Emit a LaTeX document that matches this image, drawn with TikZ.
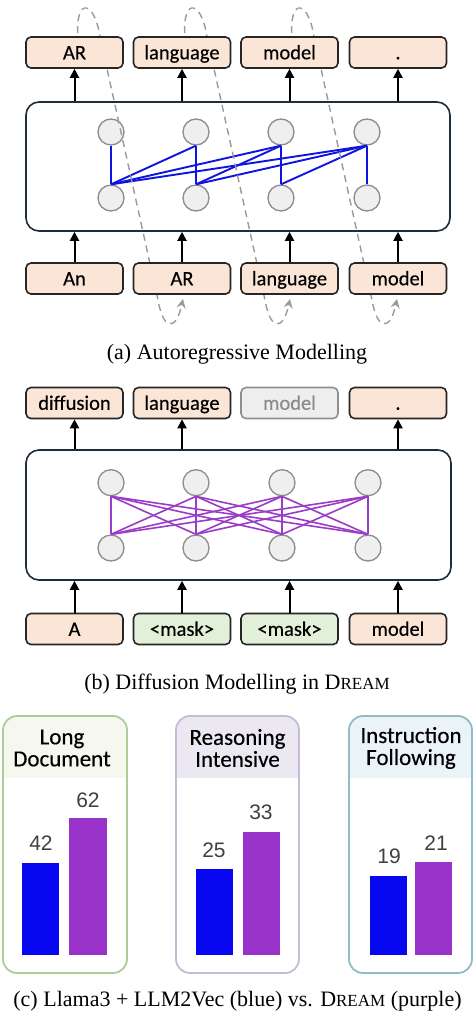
\documentclass[tikz,border=0pt]{standalone}
\usepackage{fontspec}
\setmainfont{Liberation Serif}
\newfontfamily\carl[FakeBold=0.35]{Carlito}
\newfontfamily\lsans{Liberation Sans}
\usetikzlibrary{arrows.meta}
\definecolor{peach}{HTML}{FBE5D6}
\definecolor{tokborder}{HTML}{262626}
\definecolor{bigborder}{HTML}{1F2D3A}
\definecolor{circfill}{HTML}{EFEFEF}
\definecolor{circdraw}{HTML}{8C8C8C}
\definecolor{arblue}{HTML}{0F14E0}
\definecolor{difpurple}{HTML}{9A3CC8}
\definecolor{barblue}{HTML}{0808F0}
\definecolor{barpurple}{HTML}{9932C8}
\definecolor{maskgreen}{HTML}{E2F0D9}
\definecolor{greyfill}{HTML}{EEEEEE}
\definecolor{greyline}{HTML}{8F8F8F}
\definecolor{greytext}{HTML}{8A8A8A}
\definecolor{dashgrey}{HTML}{9A9A9A}
\definecolor{numgrey}{HTML}{404040}
\definecolor{pAborder}{HTML}{A9CF99}
\definecolor{pAhead}{HTML}{F6F7EF}
\definecolor{pBborder}{HTML}{C4BCD6}
\definecolor{pBhead}{HTML}{EBE8F1}
\definecolor{pCborder}{HTML}{8FBCC6}
\definecolor{pChead}{HTML}{E9F3F8}
\tikzset{
  tok/.style={draw=tokborder, fill=peach, rounded corners=5pt, line width=1.6pt,
    minimum width=97pt, minimum height=31pt, inner sep=0pt,
    text height=13.5pt, text depth=0pt, font=\carl\fontsize{20.5}{24}\selectfont},
  masktok/.style={tok, fill=maskgreen},
  greytok/.style={tok, fill=greyfill, draw=greyline, text=greytext},
  bigbox/.style={draw=bigborder, fill=white, rounded corners=13pt, line width=1.6pt},
  neuron/.style={circle, draw=circdraw, fill=circfill, line width=1.3pt, minimum size=26pt, inner sep=0pt},
  arr/.style={line width=2pt, -{Triangle[width=9pt,length=9pt]}},
  loop/.style={dashgrey, line width=1.4pt, dash pattern=on 7pt off 5pt, -{Stealth[width=9pt,length=9pt]}},
  arline/.style={arblue, line width=1.9pt},
  difline/.style={difpurple, line width=1.6pt},
  caption/.style={font=\fontsize{22}{26}\selectfont, inner sep=0pt},
  ttl/.style={font=\carl\fontsize{23}{22}\selectfont, align=center, inner sep=0pt},
  num/.style={font=\lsans\fontsize{21}{24}\selectfont, text=numgrey, inner sep=0pt},
}
\newcommand{\dream}{D{\fontsize{17}{20}\selectfont REAM}}
\begin{document}
\begin{tikzpicture}[x=1pt,y=-1pt]
\useasboundingbox (0,0) rectangle (474,1015);
% ===================== (a) =====================
\node[bigbox, minimum width=424pt, minimum height=129pt] (bigA) at (238,166.5) {};
\foreach \i/\x in {1/111,2/196,3/281,4/367}{
  \node[neuron] (at\i) at (\x,132) {};
  \node[neuron] (ab\i) at (\x,198) {};
}
\foreach \b/\t in {1/1,1/2,1/3,1/4,2/2,2/3,2/4,3/3,3/4,4/4}{
  \draw[arline] (ab\b.north) -- (at\t.south);
}
% dashed recurrence loops
\foreach \s/\n in {0/1,107/2,214/3}{
  \draw[loop] (79+\s,45) .. controls (72+\s,-2) and (94+\s,-4) .. (100+\s,37)
     -- (158+\s,300) .. controls (163+\s,330) and (176+\s,332) .. (183+\s,299);
}
\node[tok] (ao1) at (74.5,52.5) {AR};
\node[tok] (ao2) at (182,52.5) {language};
\node[tok] (ao3) at (289.5,52.5) {model};
\node[tok] (ao4) at (398,52.5) {.};
\node[tok] (ai1) at (74.5,278.5) {An};
\node[tok] (ai2) at (182,278.5) {AR};
\node[tok] (ai3) at (289.5,278.5) {language};
\node[tok] (ai4) at (398,278.5) {model};
\foreach \i in {1,2,3,4}{
  \draw[arr] (bigA.north -| ao\i) -- (ao\i.south);
  \draw[arr] (ai\i.north) -- (bigA.south -| ai\i);
}
\node[caption] (capA) at (237,354) {(a) Autoregressive Modelling};
% ===================== (b) =====================
\node[bigbox, minimum width=425pt, minimum height=130pt] (bigB) at (238.5,515) {};
\foreach \i/\x in {1/111,2/196,3/282,4/368}{
  \node[neuron] (bt\i) at (\x,482.7) {};
  \node[neuron] (bb\i) at (\x,548) {};
}
\foreach \b in {1,2,3,4}{
  \foreach \t in {1,2,3,4}{
    \draw[difline] (bb\b.north) -- (bt\t.south);
  }
}
\node[tok] (bo1) at (74.5,403) {diffusion};
\node[tok] (bo2) at (182,403) {language};
\node[greytok] (bo3) at (289.5,403) {model};
\node[tok] (bo4) at (398,403) {.};
\node[tok] (bi1) at (74.5,629) {A};
\node[masktok] (bi2) at (182,629) {<mask>};
\node[masktok] (bi3) at (289.5,629) {<mask>};
\node[tok] (bi4) at (398,629) {model};
\foreach \i in {1,2,4}{
  \draw[arr] (bigB.north -| bo\i) -- (bo\i.south);
}
\foreach \i in {1,2,3,4}{
  \draw[arr] (bi\i.north) -- (bigB.south -| bi\i);
}
\node[caption] (capB) at (237,684) {(b) Diffusion Modelling in \dream};
% ===================== (c) =====================
\foreach \p/\xl/\xr/\bc/\hc in {A/3/127/pAborder/pAhead, B/176/299/pBborder/pBhead, C/349/472/pCborder/pChead}{
  \begin{scope}
    \clip[rounded corners=14pt] (\xl,716) rectangle (\xr,973);
    \fill[\hc] (\xl,716) rectangle (\xr,778);
  \end{scope}
  \node[draw=\bc, line width=1.8pt, rounded corners=14pt, minimum width=\xr pt-\xl pt, minimum height=257pt, inner sep=0pt] (panel\p) at ({(\xl+\xr)/2},844.5) {};
}
\node[ttl] (tA) at (62,748) {Long\\Document};
\node[ttl] (tB) at (237.5,748) {Reasoning\\Intensive};
\node[ttl] (tC) at (411,748) {Instruction\\Following};
% bars
\fill[barblue] (22,862.7) rectangle (59,955);
\fill[barpurple] (69,818) rectangle (107,955);
\fill[barblue] (196,869) rectangle (233,955);
\fill[barpurple] (243,832) rectangle (280,955);
\fill[barblue] (370,875.7) rectangle (407,955);
\fill[barpurple] (415,861.7) rectangle (452,955);
\node[num] (n1) at (41,843) {42};
\node[num] (n2) at (88,800) {62};
\node[num] (n3) at (214,850) {25};
\node[num] (n4) at (261,812) {33};
\node[num] (n5) at (389,856) {19};
\node[num] (n6) at (436,843) {21};
\node[caption] (capC) at (237.5,1001) {(c) Llama3 + LLM2Vec (blue) vs. \dream{} (purple)};
\end{tikzpicture}
\end{document}
